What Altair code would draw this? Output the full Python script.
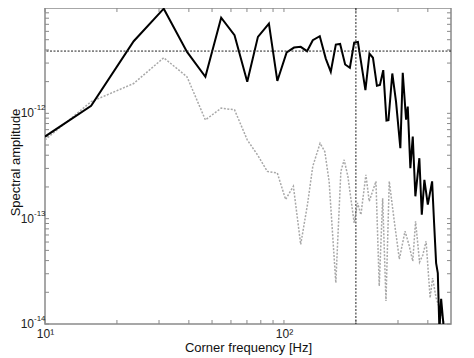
import altair as alt
import pandas as pd

# ---- data ----
freq_black = [10, 15.6, 23.5, 31.4, 39.3, 46.9, 54.6, 62.1, 70.2, 77.8, 86.5, 93.8,
              102.6, 110.2, 117.5, 124.9, 132.0, 141.2, 149.6, 157.0, 164.8, 171.8,
              180.3, 188.7, 196.7, 203.9, 219.2, 227.9, 235.7, 244.9, 252.1, 260.3,
              268.5, 273.7, 284.0, 294.4, 306.9, 314.1, 324.3, 329.6, 338.0, 345.9,
              354.7, 368.6, 377.3, 386.9, 399.9, 416.8, 424.9, 433.2, 440.3, 447.2,
              454.7, 469.4]
amp_black = [6.02e-13, 1.18e-12, 4.84e-12, 9.85e-12, 3.83e-12, 2.22e-12, 8.09e-12,
             5.52e-12, 1.99e-12, 5.32e-12, 7.10e-12, 2.03e-12, 3.78e-12, 4.21e-12,
             4.28e-12, 3.89e-12, 4.95e-12, 5.40e-12, 3.31e-12, 2.48e-12, 4.50e-12,
             4.56e-12, 2.91e-12, 2.71e-12, 4.70e-12, 4.77e-12, 1.66e-12, 3.69e-12,
             3.37e-12, 1.83e-12, 1.86e-12, 2.57e-12, 8.53e-13, 8.62e-13, 2.39e-12,
             1.29e-12, 4.67e-13, 2.43e-12, 8.72e-13, 1.16e-12, 3.02e-13, 6.02e-13,
             1.63e-13, 3.75e-13, 1.09e-13, 2.34e-13, 1.36e-13, 2.26e-13, 9.05e-14,
             3.79e-14, 3.04e-14, 8.6e-15, 1.73e-14, 7.7e-15]

freq_gray = [10, 15.6, 23.5, 31.4, 39.3, 46.9, 54.6, 62.1, 70.2, 77.8, 85.2, 93.8,
             101.6, 109.5, 117.5, 125.4, 132.0, 141.6, 148.2, 154.5, 164.8, 173.0,
             178.6, 185.1, 196.7, 203.2, 209.9, 220.2, 227.4, 242.6, 250.4, 258.8,
             267.2, 275.8, 289.5, 303.9, 321.1, 333.8, 345.9, 355.4, 369.3, 381.0,
             393.3, 408.8, 418.8, 433.2, 447.2, 469.4, 480.0]
amp_gray = [5.60e-13, 1.29e-12, 1.92e-12, 3.37e-12, 2.22e-12, 8.66e-13, 1.12e-12,
            1.08e-12, 5.60e-13, 3.98e-13, 2.81e-13, 2.71e-13, 1.52e-13, 2.03e-13,
            5.69e-14, 1.36e-13, 3.14e-13, 5.20e-13, 4.34e-13, 2.26e-13, 2.46e-14,
            2.81e-13, 3.62e-13, 2.52e-13, 9.11e-14, 1.41e-13, 1.09e-13, 2.61e-13,
            1.46e-13, 2.26e-13, 2.29e-14, 1.56e-13, 1.65e-14, 2.26e-13, 9.45e-14,
            4.13e-14, 7.60e-14, 5.60e-14, 3.95e-14, 9.45e-14, 3.87e-14, 4.50e-14,
            6.11e-14, 1.77e-14, 2.73e-14, 1.77e-14, 1.42e-14, 1.0e-14, 8.0e-15]

ref_amp = [3.9e-12]
ref_freq = [200]

x_ticks = [10, 20, 30, 40, 50, 60, 70, 80, 90, 100, 200, 300, 400]
y_ticks = [1e-14, 2e-14, 3e-14, 4e-14, 5e-14, 6e-14, 7e-14, 8e-14, 9e-14,
           1e-13, 2e-13, 3e-13, 4e-13, 5e-13, 6e-13, 7e-13, 8e-13, 9e-13,
           1e-12, 2e-12, 3e-12, 4e-12, 5e-12, 6e-12, 7e-12, 8e-12, 9e-12]
y_decades = [1e-14, 1e-13, 1e-12]
y_exponents = ["-14", "-13", "-12"]

W, H = 406, 316
FONT = "Liberation Sans"
AXC = "#8a8a8a"

xs = alt.Scale(type="log", domain=[10, 500], nice=False)
ys = alt.Scale(type="log", domain=[1e-14, 1e-11], nice=False)

df_b = pd.DataFrame({"f": freq_black, "a": amp_black})
df_g = pd.DataFrame({"f": freq_gray, "a": amp_gray})

base_axes = alt.Chart(df_b).mark_line(opacity=0).encode(
    x=alt.X("f:Q", scale=xs, title="Corner frequency [Hz]",
            axis=alt.Axis(values=[10, 100], ticks=False, domain=False, grid=False,
                          labelExpr="datum.value < 50 ? '10¹' : '10²'",
                          labelFont=FONT, labelFontSize=12, labelColor="#222",
                          labelPadding=4, titleFont=FONT, titleFontSize=13,
                          titleFontWeight="normal", titleColor="#111", titlePadding=2,
                          labelFlush=False)),
    y=alt.Y("a:Q", scale=ys, title="Spectral amplitude",
            axis=alt.Axis(values=y_decades, ticks=False, domain=False, grid=False,
                          labels=False, titleFont=FONT, titleFontSize=13,
                          titleFontWeight="normal", titleColor="#111",
                          titleX=-23, titleY=H / 2 - 4, titleAngle=270,
                          titleAlign="center", titleBaseline="bottom")),
)

df_lab = pd.DataFrame({"a": y_decades, "e": y_exponents})
ylab_base = alt.Chart(df_lab).mark_text(
    text="10", font=FONT, fontSize=12, color="#222", align="right",
    baseline="middle").encode(y=alt.Y("a:Q", scale=ys), x=alt.value(-11))
ylab_exp = alt.Chart(df_lab).mark_text(
    font=FONT, fontSize=8, color="#222", align="left", baseline="middle",
    dy=-5).encode(y=alt.Y("a:Q", scale=ys), x=alt.value(-11), text="e:N")

gray = alt.Chart(df_g).mark_line(color="#a8a8a8", strokeWidth=1.5,
                                 strokeDash=[2, 1.5], clip=True).encode(
    x=alt.X("f:Q", scale=xs), y=alt.Y("a:Q", scale=ys))

black = alt.Chart(df_b).mark_line(color="#000000", strokeWidth=2, clip=True).encode(
    x=alt.X("f:Q", scale=xs), y=alt.Y("a:Q", scale=ys))

hline = alt.Chart(pd.DataFrame({"a": ref_amp})).mark_rule(
    color="#222", strokeWidth=1, strokeDash=[2, 1.5]).encode(y=alt.Y("a:Q", scale=ys))
vline = alt.Chart(pd.DataFrame({"f": ref_freq})).mark_rule(
    color="#222", strokeWidth=1, strokeDash=[2, 1.5]).encode(x=alt.X("f:Q", scale=xs))

dfx = pd.DataFrame({"f": x_ticks})
dfy = pd.DataFrame({"a": y_ticks})
tk_bottom = alt.Chart(dfx).mark_rule(color=AXC, strokeWidth=1).encode(
    x=alt.X("f:Q", scale=xs), y=alt.value(H), y2=alt.value(H - 4))
tk_top = alt.Chart(dfx).mark_rule(color=AXC, strokeWidth=1).encode(
    x=alt.X("f:Q", scale=xs), y=alt.value(0), y2=alt.value(4))
tk_left = alt.Chart(dfy).mark_rule(color=AXC, strokeWidth=1).encode(
    y=alt.Y("a:Q", scale=ys), x=alt.value(0), x2=alt.value(4))
tk_right = alt.Chart(dfy).mark_rule(color=AXC, strokeWidth=1).encode(
    y=alt.Y("a:Q", scale=ys), x=alt.value(W), x2=alt.value(W - 4))

chart = alt.layer(base_axes, ylab_base, ylab_exp, tk_bottom, tk_top, tk_left,
                  tk_right, gray, black, hline, vline).properties(
    width=W, height=H,
    autosize=alt.AutoSizeParams(type="none"),
    padding={"left": 37, "top": 0, "right": 15, "bottom": 34},
    background="white",
).configure_view(stroke=AXC, strokeWidth=1.5)

chart.save("out.html", embed_options={"renderer": "svg", "actions": False})
